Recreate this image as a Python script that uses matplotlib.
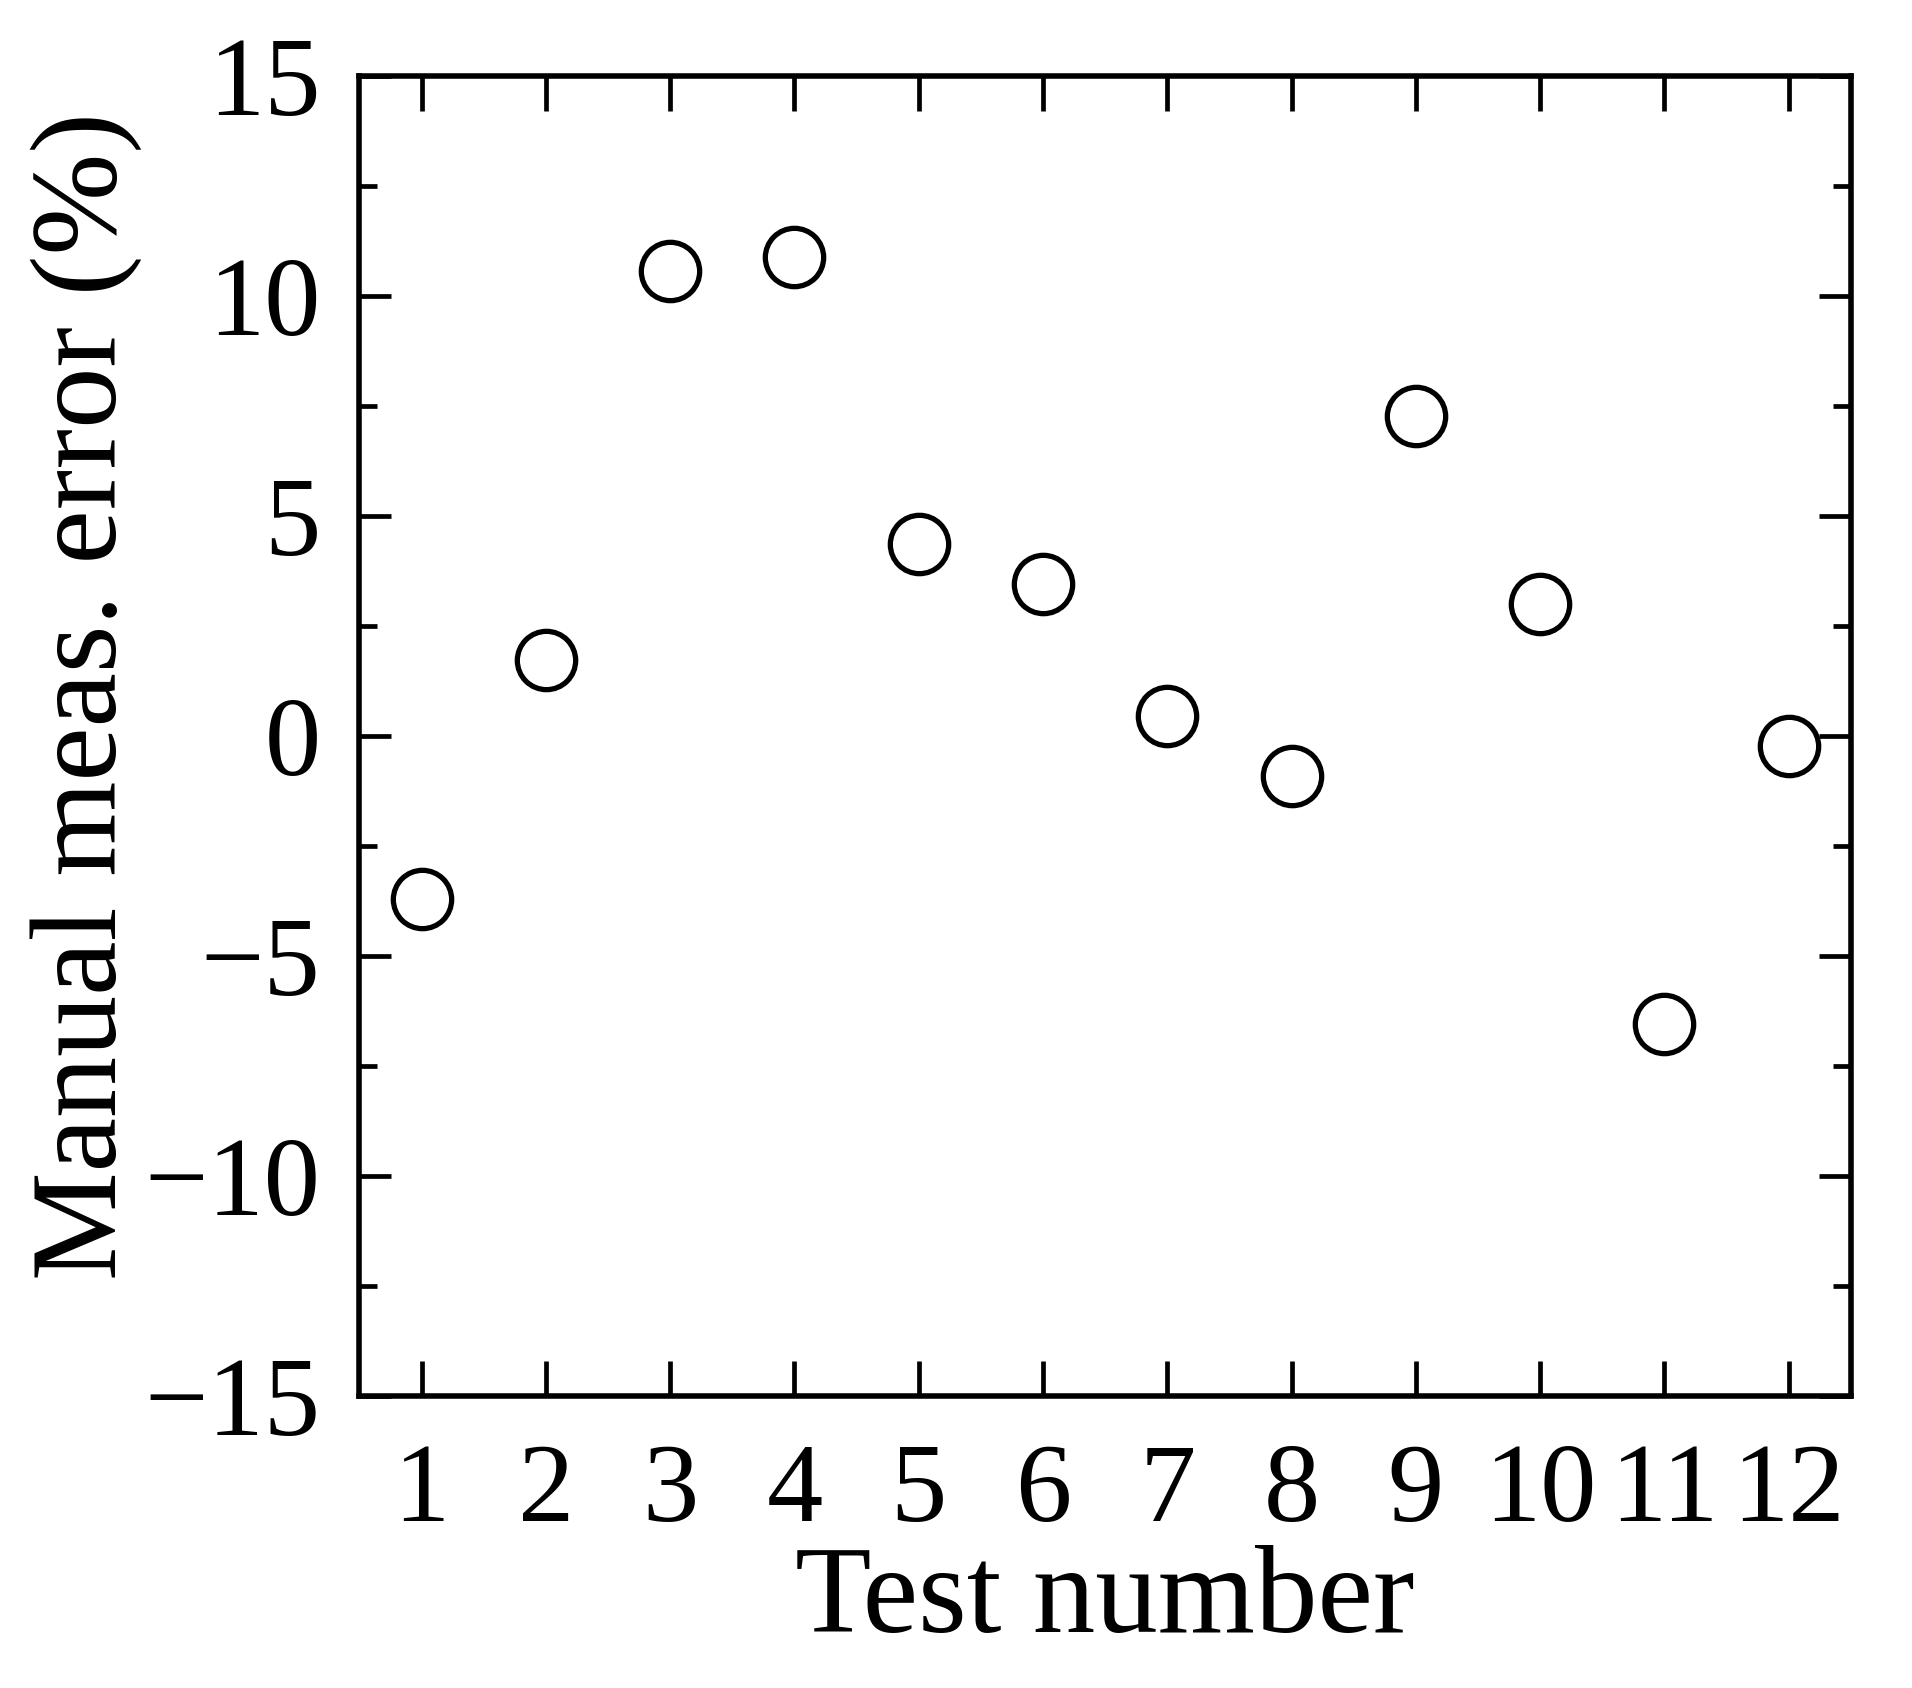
import numpy as np
import matplotlib
matplotlib.use("Agg")
import matplotlib.pyplot as plt
from matplotlib.ticker import MultipleLocator

# Manual measurement error per test
test_no = [1, 2, 3, 4, 5, 6, 7, 8, 9, 10, 11, 12]
error_pct = [-3.70, 1.73, 10.57, 10.88, 4.37, 3.45, 0.46, -0.90, 7.28, 3.01, -6.55, -0.23]

plt.rcParams['font.family'] = ['Liberation Serif', 'DejaVu Serif']

fig = plt.figure(figsize=(19.12, 16.88), dpi=100)
ax = fig.add_axes([0.188, 0.173, 0.780, 0.782])

ax.plot(test_no, error_pct, 'o', markersize=42, markerfacecolor='white',
        markeredgecolor='black', markeredgewidth=3.8)

ax.set_xlim(0.5, 12.5)
ax.set_ylim(-15, 15)
ax.set_xticks(test_no)
ax.yaxis.set_major_locator(MultipleLocator(5))
ax.yaxis.set_minor_locator(MultipleLocator(2.5))

for s in ax.spines.values():
    s.set_linewidth(4)

ax.tick_params(axis='both', which='both', direction='in', top=True, right=True,
               width=3.4, labelsize=81, colors='black')
ax.tick_params(axis='y', which='major', length=23, pad=28)
ax.tick_params(axis='y', which='minor', length=13)
ax.tick_params(axis='x', which='major', length=25, pad=34)

ax.set_xlabel('Test number', fontsize=90, labelpad=0)
ax.set_ylabel('Manual meas. error (%)', fontsize=88, labelpad=2, y=0.53)

fig.savefig('out.png', dpi=100)
